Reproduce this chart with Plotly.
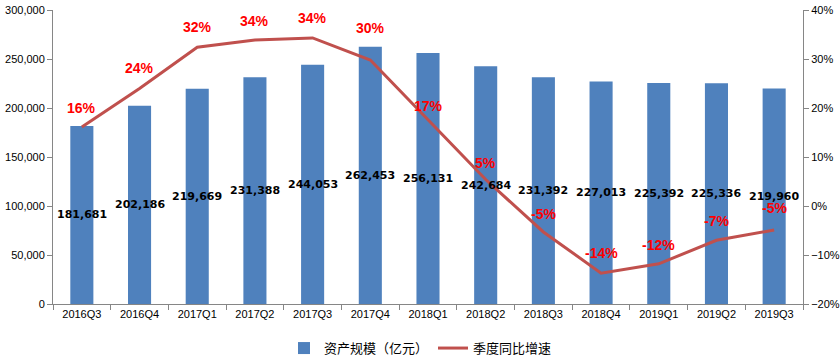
import plotly.graph_objects as go

quarters = ["2016Q3", "2016Q4", "2017Q1", "2017Q2", "2017Q3", "2017Q4", "2018Q1",
            "2018Q2", "2018Q3", "2018Q4", "2019Q1", "2019Q2", "2019Q3"]
assets = [181681, 202186, 219669, 231388, 244053, 262453, 256131,
          242684, 231392, 227013, 225392, 225336, 219960]
growth = [16.1, 24.0, 32.4, 33.9, 34.3, 29.8, 17.6, 5.4, -5.3, -13.7, -11.8, -7.0, -4.9]
growth_labels = ["16%", "24%", "32%", "34%", "34%", "30%", "17%", "5%", "-5%", "-14%", "-12%", "-7%", "-5%"]

bar_name = "资产规模（亿元）"
line_name = "季度同比增速"

# pixel offsets of the red labels above their points (style only)
label_shift = [19, 20, 20, 19, 20, 32, 14, 17, 18, 20, 19, 19, 22]

fig = go.Figure()
fig.add_trace(go.Bar(
    x=quarters, y=assets, name=bar_name,
    marker=dict(color="#4F81BD", line=dict(width=0)),
    width=0.4,
))
fig.add_trace(go.Scatter(
    x=quarters, y=growth, name=line_name, yaxis="y2",
    mode="lines", line=dict(color="#C0504D", width=3),
))

# bar value labels, centred in each bar
for q, v in zip(quarters, assets):
    fig.add_annotation(
        x=q, y=v / 2, xref="x", yref="y", text=f"{v:,}", showarrow=False,
        font=dict(family="DejaVu Sans", size=11, color="black", weight="bold"),
    )

for q, g, lab, s in zip(quarters, growth, growth_labels, label_shift):
    fig.add_annotation(
        x=q, y=g, xref="x", yref="y2", text=lab, showarrow=False,
        yshift=s,
        font=dict(family="Liberation Sans", size=14, color="#FF0000", weight="bold"),
    )

axis_font = dict(family="Liberation Sans", size=11, color="black")
fig.update_layout(
    width=840, height=364,
    margin=dict(l=53, r=37, t=10, b=60, autoexpand=False),
    paper_bgcolor="white", plot_bgcolor="white",
    showlegend=True,
    legend=dict(orientation="h", x=0.49, xanchor="center", y=-0.15, yanchor="middle",
                font=dict(family="Noto Sans CJK SC", size=13, color="black"),
                itemwidth=30, traceorder="normal"),
    xaxis=dict(showline=True, linecolor="#868686", linewidth=1, ticks="outside",
               tickson="boundaries", ticklen=5, tickcolor="#868686",
               tickfont=axis_font, showgrid=False, automargin=False),
    yaxis=dict(range=[0, 300000], dtick=50000, tickformat=",", showline=True,
               linecolor="#868686", linewidth=1, ticks="outside", ticklen=5,
               tickcolor="#868686", tickfont=axis_font, showgrid=False, zeroline=False,
               automargin=False),
    yaxis2=dict(range=[-20, 40], dtick=10, ticksuffix="%", overlaying="y", side="right",
                showline=True, linecolor="#868686", linewidth=1, ticks="outside", ticklen=5,
                tickcolor="#868686", tickfont=axis_font, showgrid=False, zeroline=False,
                automargin=False),
    bargap=0.6,
)

fig.write_html("out.html", config={"displayModeBar": False},
               post_script="document.body.style.margin='0';")
